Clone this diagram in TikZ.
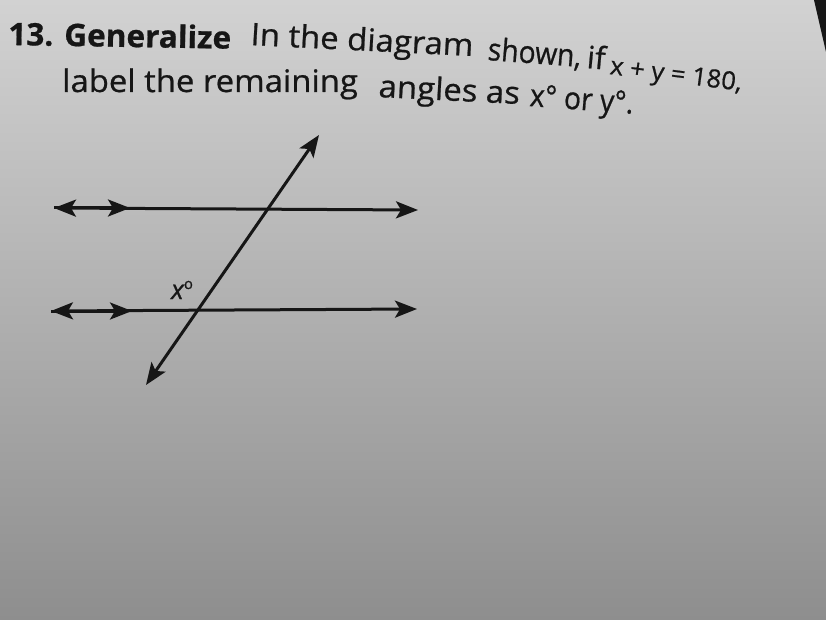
\documentclass[tikz,border=0pt]{standalone}
\usepackage{fontspec}
\setmainfont{Open Sans}[FakeBold=0.7]
\usetikzlibrary{arrows.meta}
\definecolor{paperTop}{RGB}{210,210,210}
\definecolor{paperBot}{RGB}{142,142,142}
\definecolor{ink}{RGB}{22,22,22}
\tikzset{
  tip/.tip={Stealth[length=22pt,width=17pt,inset=5pt]},
  ray/.style={draw=ink, line width=3pt, tip-tip},
  tick/.style={draw=ink, line width=3pt, -tip},
  qtext/.style={anchor=base west, inner sep=0pt, text=ink, xscale=1.06, font=\fontsize{31}{34}\selectfont},
  smalltext/.style={qtext, xscale=0.97, font=\fontsize{25}{27}\selectfont},
}
\begin{document}
\begin{tikzpicture}[x=1pt,y=-1pt]
\useasboundingbox (0,0) rectangle (826,620);
\shade[top color=paperTop, bottom color=paperBot] (0,0) rectangle (826,620);
\fill[ink] (814,0) -- (826,0) -- (826,52) -- cycle;
% text, line 1
\node[qtext, rotate=-1, xscale=0.96] (num) at (8,45) {\bfseries 13. Generalize};
\node[qtext, rotate=-3] (l1a) at (250,45) {In the diagram};
\node[qtext, rotate=-4.5, xscale=0.86] (l1b) at (487,60) {shown,};
\node[qtext, rotate=-5, xscale=0.94] (l1c) at (586,68) {if};
\node[smalltext, rotate=-7.5] (l1d) at (609,74) {x + y = 180,};
% text, line 2
\node[qtext, rotate=0] (l2a) at (62,92) {label the remaining};
\node[qtext, rotate=-3] (l2b) at (378,97) {angles as};
\node[qtext, rotate=-4.5, xscale=0.86] (l2c) at (529,106) {x° or y°.};
% diagram
\coordinate (T1) at (54,208);
\coordinate (T2) at (418,210);
\coordinate (Tm) at (130,208);
\coordinate (B1) at (51,311);
\coordinate (B2) at (417,309);
\coordinate (Bm) at (132,311);
\coordinate (P) at (319,135);
\coordinate (Q) at (146,385);
\draw[ray] (T1) -- (T2);
\draw[ray] (B1) -- (B2);
\draw[tick] (T1) -- (Tm);
\draw[tick] (B1) -- (Bm);
\draw[ray] (Q) -- (P);
\node[text=ink, font=\fontsize{27}{30}\selectfont\itshape] (xl) at (182,290) {x\raisebox{0.7ex}{\fontsize{15}{15}\selectfont\upshape o}};
\end{tikzpicture}
\end{document}
